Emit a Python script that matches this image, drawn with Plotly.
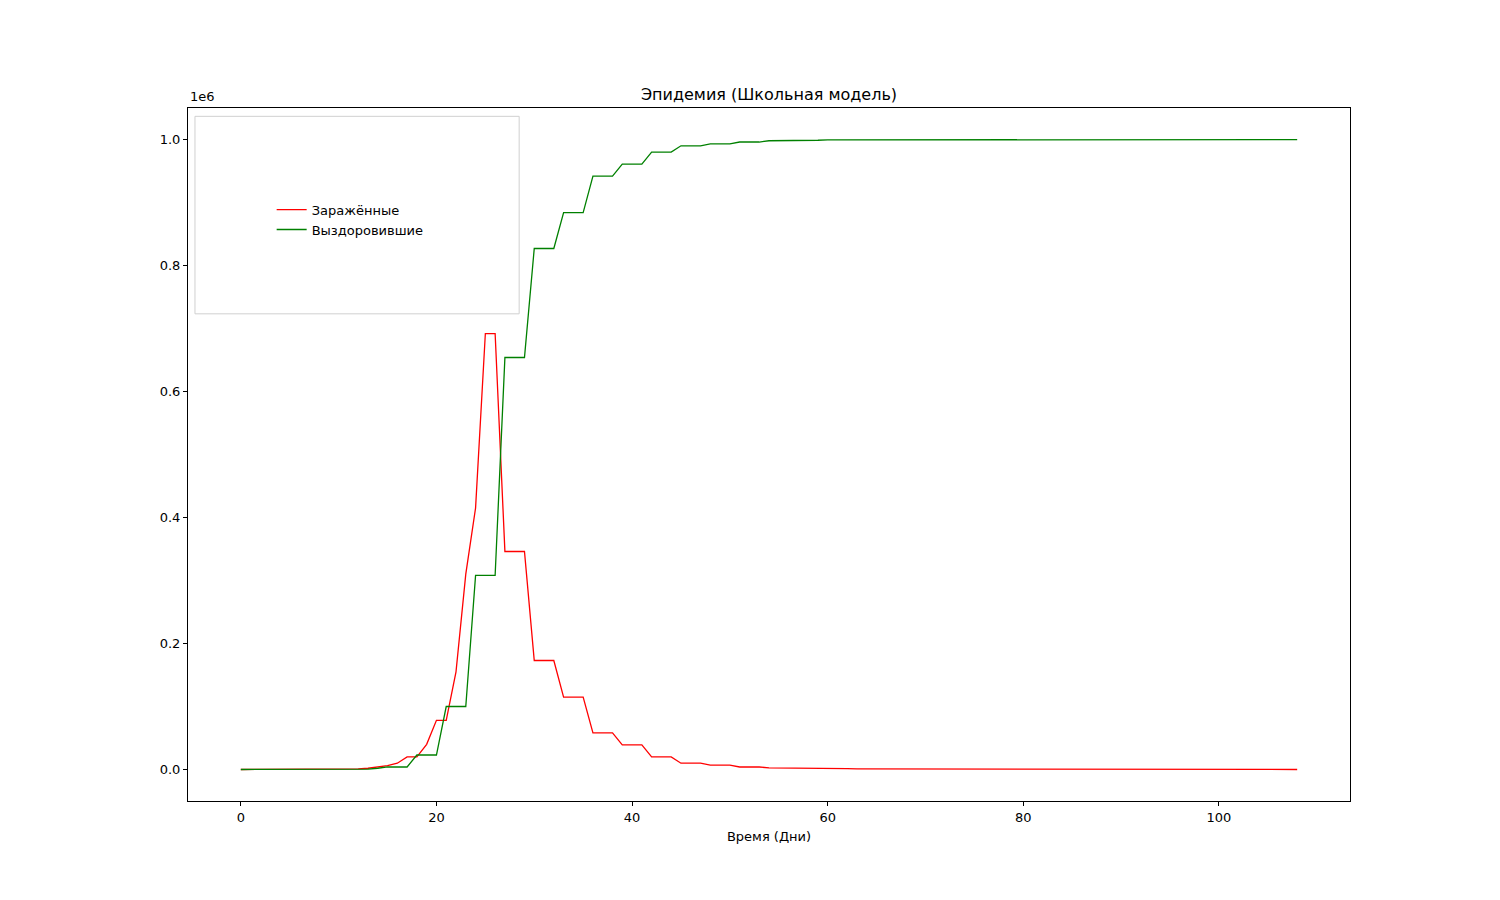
import plotly.graph_objects as go

days = list(range(109))
infected = [0,0,0,0,0,0,0,0,0,200,400,600,1000,2000,4000,6000,10000,20000,20000,40000,
            78000,78000,155000,310000,415000,692000,692000,346000,346000,346000,
            173000,173000,173000,115000,115000,115000,58000,58000,58000,39000,
            39000,39000,20000,20000,20000,10000,10000,10000,7000,7000,
            7000,4000,4000,4000,2500,2500,2500,1800,1800,1800,
            1300,1300,1300,1000,1000,1000,800,800,800,600,
            600,600,500,500,500,400,400,400,300,300,
            300,250,250,250,200,200,200,150,150,150,
            120,120,120,100,100,100,80,80,80,60,
            60,60,50,50,50,40,40,40,30]
recovered = [0,0,0,0,0,0,0,0,0,0,0,0,0,500,2000,4000,4000,4000,23000,23000,
             23000,100000,100000,100000,308000,308000,308000,654000,654000,654000,
             827000,827000,827000,884000,884000,884000,942000,942000,942000,961000,
             961000,961000,980000,980000,980000,990000,990000,990000,993000,993000,
             993000,996000,996000,996000,998000,998000,998000,998800,998800,998800,
             999300,999300,999300,999600,999600,999600,999800,999800,999800,999900]
recovered += [999950]*(109-len(recovered))

fig = go.Figure()
fig.add_trace(go.Scatter(x=days, y=infected, mode="lines", name="Заражённые",
                         line=dict(color="red", width=1.3)))
fig.add_trace(go.Scatter(x=days, y=recovered, mode="lines", name="Выздоровившие",
                         line=dict(color="green", width=1.3)))

axis = dict(showgrid=False, zeroline=False, showline=True, linecolor="black", linewidth=1,
            mirror=True, ticks="outside", ticklen=4, tickcolor="black",
            tickfont=dict(size=13, color="black"))
fig.update_layout(
    width=1500, height=900, plot_bgcolor="white", paper_bgcolor="white",
    font=dict(family="DejaVu Sans", color="black"),
    margin=dict(l=180, r=158, t=100, b=107),
    title=dict(text="Эпидемия (Школьная модель)", x=0.5, xref="paper", y=1-86/900,
               yanchor="middle", font=dict(size=16)),
    xaxis=dict(axis, range=[-5.4, 113.4], tickvals=[0,20,40,60,80,100],
               title=dict(text="Время (Дни)", font=dict(size=13), standoff=8)),
    yaxis=dict(axis, range=[-50000, 1050000], tickvals=[0,200000,400000,600000,800000,1000000],
               ticktext=["0.0","0.2","0.4","0.6","0.8","1.0"]),
    legend=dict(x=0.072, y=0.875, xanchor="left", yanchor="top", bgcolor="rgba(0,0,0,0)",
                font=dict(size=13)),
    showlegend=True,
)
fig.add_shape(type="rect", xref="paper", yref="paper", x0=0.006, x1=0.285, y0=0.703, y1=0.988,
              line=dict(color="#d0d0d0", width=1), fillcolor="rgba(255,255,255,0.8)", layer="above")
fig.add_annotation(text="1e6", xref="paper", yref="paper", x=0, y=1, xanchor="left",
                   yanchor="bottom", showarrow=False, font=dict(size=13), yshift=2)
fig.write_html("out.html")
